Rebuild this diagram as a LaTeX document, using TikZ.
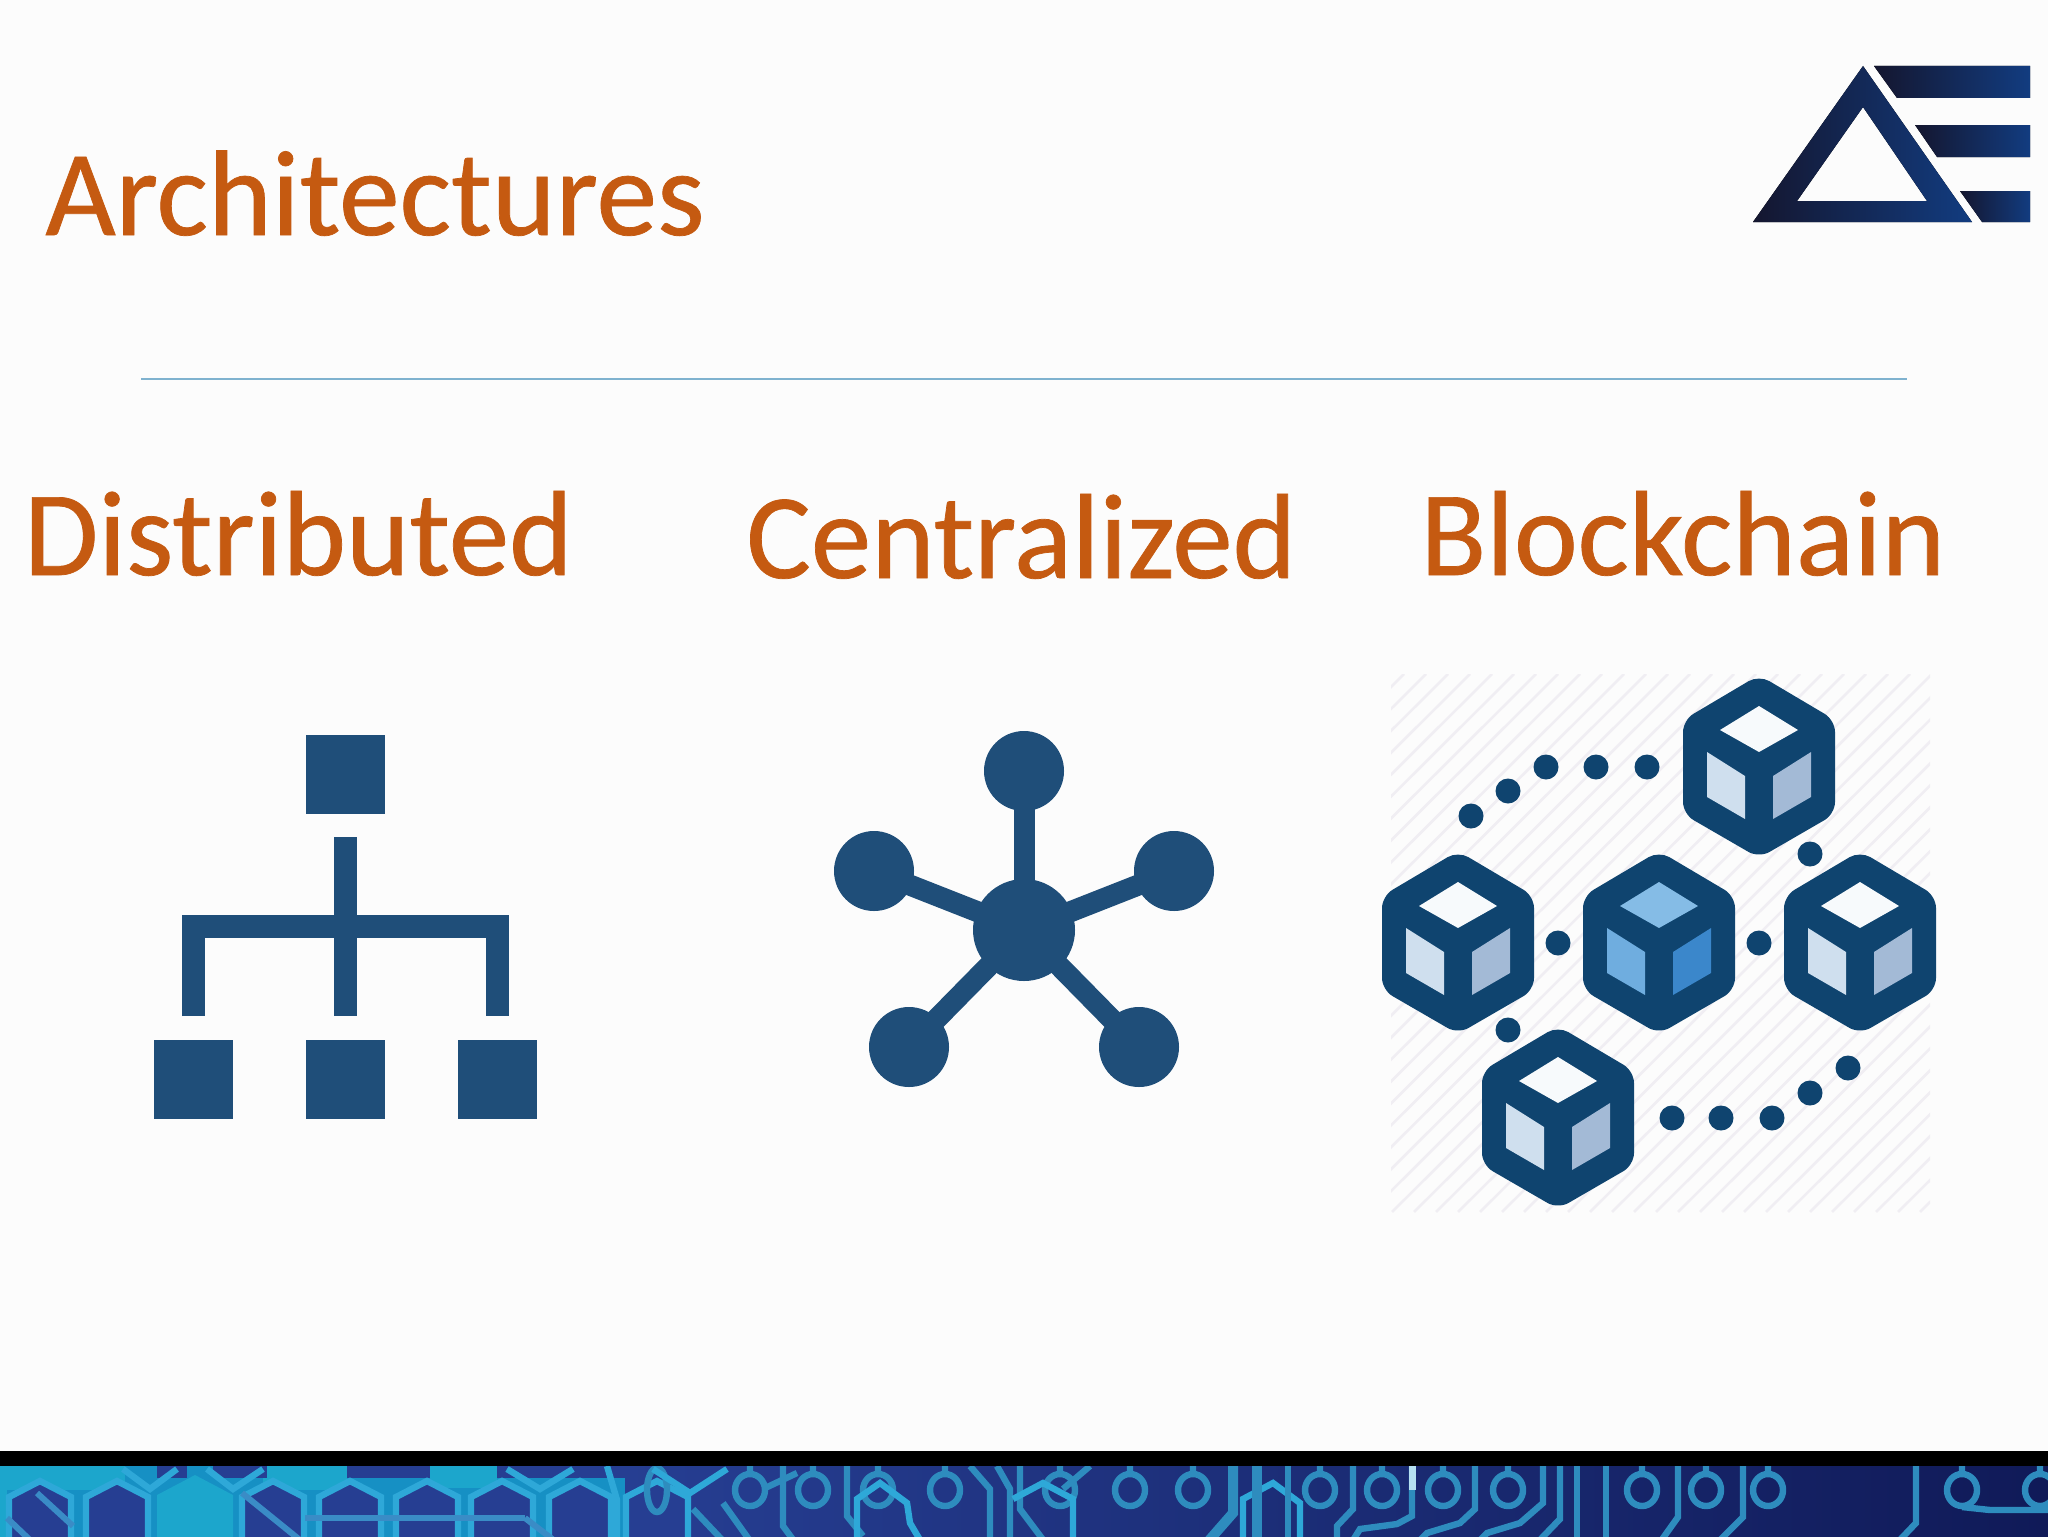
\documentclass[tikz,border=0pt]{standalone}
\usepackage{fontspec}
\setmainfont{Carlito}
\newfontfamily\headfont{Carlito}[FakeBold=0.6]
\usepackage{xcolor}
\definecolor{archorange}{HTML}{C55A11}
\definecolor{archblue}{HTML}{1F4E79}
\definecolor{archrule}{HTML}{7FB2CF}
\definecolor{cubedark}{HTML}{0F446F}
\definecolor{cubetop}{HTML}{F7FAFC}
\definecolor{cubeleft}{HTML}{CFDFEE}
\definecolor{cuberight}{HTML}{A3BAD6}
\definecolor{midtop}{HTML}{85BCE6}
\definecolor{midleft}{HTML}{6FADDF}
\definecolor{midright}{HTML}{3B87CB}
\definecolor{hatchgray}{HTML}{F0EEF3}
\definecolor{logodark}{HTML}{14162F}
\definecolor{logoblue}{HTML}{123C80}
\definecolor{footcyan}{HTML}{1CA6CC}
\definecolor{footteal}{HTML}{1690C4}
\definecolor{footnavy}{HTML}{263E92}
\definecolor{footdeep}{HTML}{101A58}
\definecolor{foottrace}{HTML}{2EA8D8}
\definecolor{footpale}{HTML}{3A8CC6}
\definecolor{footring}{HTML}{2E8CBE}
\newcommand{\blockcube}[5]{%
  \begin{scope}[shift={(#1,#2)}]
    \fill[cubedark, rounded corners=6pt] (0,-92) -- (76,-47) -- (76,47) -- (0,91) -- (-76,47) -- (-76,-47) -- cycle;
    \fill[#3] (0,-61) -- (39,-37) -- (0,-15) -- (-39,-37) -- cycle;
    \fill[#4] (-52,-15) -- (-14,9) -- (-14,52) -- (-52,30) -- cycle;
    \fill[#5] (52,-15) -- (14,9) -- (14,52) -- (52,30) -- cycle;
  \end{scope}}

\begin{document}
\begin{tikzpicture}[x=.5pt, y=-.5pt,
  heading/.style={font=\headfont\fontsize{60.5pt}{62pt}\selectfont, text=archorange, anchor=base west, inner sep=0pt},
  distbox/.style={fill=archblue, minimum size=39.5pt, inner sep=0pt},
  distlink/.style={draw=archblue, line width=11.5pt, shorten <=11.5pt, shorten >=11.5pt},
  hubnode/.style={circle, fill=archblue, minimum size=40pt, inner sep=0pt},
  hublink/.style={draw=archblue, line width=10.5pt, shorten <=-4pt, shorten >=-4pt},
  chaindot/.style={circle, fill=cubedark, minimum size=12.5pt, inner sep=0pt},
  housetrace/.style={draw=foottrace, fill=footnavy, line width=3.2pt},
  bluetrace/.style={draw=foottrace, line width=3.2pt},
  paletrace/.style={draw=footpale, line width=3pt},
  ringtrace/.style={draw=footring, line width=3.2pt}
]
  \useasboundingbox (0,0) rectangle (2048,1536);
  \fill[white!99!black] (0,0) rectangle (2048,1536);

  % Title and rule
  \node[heading, font=\headfont\fontsize{60.8pt}{62pt}\selectfont] (title) at (45,235) {Architectures};
  \coordinate (ruleleft) at (141,379);
  \coordinate (ruleright) at (1907,379);
  \draw[archrule, line width=.7pt] (ruleleft) -- (ruleright);

  % Logo
  \fill[even odd rule, left color=logodark, right color=logoblue]
    (1863,66) -- (1972,222) -- (1753,222) -- cycle
    (1863,107) -- (1927,201) -- (1797,201) -- cycle;
  \fill[left color=logodark, right color=logoblue] (1874,66) -- (2030,66) -- (2030,98) -- (1897,98) -- cycle;
  \fill[left color=logodark, right color=logoblue] (1915,125) -- (2030,125) -- (2030,157) -- (1937,157) -- cycle;
  \fill[left color=logodark, right color=logoblue] (1960,191) -- (2030,191) -- (2030,222) -- (1982,222) -- cycle;

  % Column headings
  \node[heading] (disthead) at (23.5,575) {Distributed};
  \node[heading] (centhead) at (746,578) {Centralized};
  \node[heading] (chainhead) at (1420,575) {Blockchain};

  % Distributed
  \node[distbox] (distroot) at (345.5,774.5) {};
  \node[distbox] (distleft) at (193.5,1079) {};
  \node[distbox] (distmid) at (345.5,1079) {};
  \node[distbox] (distright) at (497.5,1079) {};
  \coordinate (disthub) at (345.5,926);
  \draw[distlink] (distroot.south) -- (distmid.north);
  \draw[distlink] (distleft.north) |- (disthub) -| (distright.north);

  % Centralized
  \node[hubnode, minimum size=51pt] (hubcentre) at (1024,930) {};
  \node[hubnode] (hubtop) at (1024,771) {};
  \node[hubnode] (hubleft) at (874,871) {};
  \node[hubnode] (hubright) at (1174,871) {};
  \node[hubnode] (hublowleft) at (909,1047) {};
  \node[hubnode] (hublowright) at (1139,1047) {};
  \foreach \spoke in {hubtop,hubleft,hubright,hublowleft,hublowright}
    \draw[hublink] (hubcentre) -- (\spoke);

  % Blockchain
  \begin{scope}
    \clip (1391,674) rectangle (1930,1212);
    \foreach \hx in {820,842,...,2400}
      \draw[hatchgray, line width=1.3pt] (\hx,1212) -- ({\hx+540},674);
  \end{scope}
  \blockcube{1759}{767}{cubetop}{cubeleft}{cuberight}
  \blockcube{1458}{943}{cubetop}{cubeleft}{cuberight}
  \blockcube{1860}{943}{cubetop}{cubeleft}{cuberight}
  \blockcube{1558}{1118}{cubetop}{cubeleft}{cuberight}
  \blockcube{1659}{943}{midtop}{midleft}{midright}
  \foreach \dx/\dy in {1647/767,1596/767,1546/767,1508/791,1471/816,1810/854,1558/943,1759/943,1508/1030,1672/1118,1721/1118,1772/1118,1810/1093,1848/1068}
    \node[chaindot] at (\dx,\dy) {};

  % Footer band
  \fill[black] (0,1451) rectangle (2048,1466);
  \begin{scope}
    \clip (0,1466) rectangle (2048,1545);
    \fill[footteal] (0,1466) rectangle (625,1545);
    \fill[left color=footnavy, right color=footdeep] (625,1466) rectangle (2048,1545);
    % left: hexagon cells
    \fill[footcyan] (0,1466) rectangle (125,1490);
    \fill[footcyan] (263,1466) rectangle (347,1490);
    \fill[footcyan] (430,1466) rectangle (497,1488);
    \fill[footnavy] (157,1466) rectangle (187,1478);
    \fill[footnavy] (213,1466) rectangle (267,1478);
    \fill[footnavy] (347,1466) rectangle (430,1478);
    \fill[footnavy] (497,1466) rectangle (625,1478);
    \fill[footcyan] (0,1490) rectangle (7,1545);
    \foreach \hx in {40,117,273,350,427,502,580,657}
      \draw[housetrace] ({\hx-31},1545) -- ({\hx-31},1497) -- (\hx,1481) -- ({\hx+31},1497) -- ({\hx+31},1545) -- cycle;
    \fill[footcyan] (157,1545) -- (157,1495) -- (195,1475) -- (233,1495) -- (233,1545) -- cycle;
    \draw[paletrace] (37,1493) -- (73,1526);
    \draw[paletrace] (7,1518) -- (30,1540);
    \draw[paletrace] (242,1493) -- (300,1540);
    \draw[paletrace] (305,1518) -- (525,1518);
    \draw[bluetrace] (123,1469) -- (150,1489) -- (177,1469);
    \draw[bluetrace] (207,1469) -- (233,1489) -- (263,1469);
    \draw[bluetrace] (507,1469) -- (540,1489) -- (573,1469);
    \draw[bluetrace] (607,1466) -- (617,1500) -- (617,1545);
    \draw[paletrace] (525,1518) -- (560,1545);
    % middle: rings and traces
    \foreach \rx in {750,813,878,945,1060,1130,1193,1320,1382,1443,1508,1642,1706,1768,1962,2040}
      \draw[ringtrace] (\rx,1466) -- (\rx,1473) (\rx,1490) ellipse [x radius=15, y radius=16];
    \draw[ringtrace] (657,1490) ellipse [x radius=10, y radius=22];
    \draw[bluetrace] (653,1469) -- (690,1493) -- (727,1469);
    \draw[ringtrace] (693,1509) -- (727,1545);
    \draw[ringtrace] (723,1503) -- (753,1545);
    \draw[ringtrace] (783,1466) -- (783,1526) -- (797,1545);
    \draw[ringtrace] (763,1489) -- (797,1473);
    \draw[ringtrace] (847,1466) -- (847,1516) -- (863,1536);
    \draw[bluetrace] (857,1545) -- (857,1499) -- (880,1483) -- (907,1503) -- (910,1523) -- (923,1545);
    \draw[ringtrace] (970,1466) -- (990,1489) -- (990,1545);
    \draw[ringtrace] (997,1466) -- (1010,1489) -- (1010,1545);
    \draw[ringtrace] (1020,1466) -- (1020,1509) -- (1047,1545);
    \draw[bluetrace] (1013,1499) -- (1043,1483) -- (1073,1499) -- (1073,1545);
    \draw[ringtrace] (1090,1466) -- (1063,1489);
    \draw[ringtrace, line width=5pt] (1233,1466) -- (1233,1513) -- (1205,1545);
    \draw[bluetrace] (1243,1545) -- (1243,1499) -- (1273,1483) -- (1300,1503) -- (1300,1545);
    \draw[ringtrace, line width=5pt] (1257,1466) -- (1257,1545);
    \draw[ringtrace] (1288,1466) -- (1288,1545);
    \draw[ringtrace] (1353,1466) -- (1353,1509) -- (1337,1526) -- (1337,1545);
    \draw[ringtrace] (1412,1466) -- (1412,1516) -- (1397,1524) -- (1360,1529) -- (1350,1545);
    \draw[white!65!foottrace, line width=3.5pt] (1412,1466) -- (1412,1490);
    \draw[ringtrace] (1475,1466) -- (1475,1509) -- (1460,1523) -- (1427,1533) -- (1415,1545);
    \draw[ringtrace] (1543,1466) -- (1543,1503) -- (1520,1523) -- (1487,1533) -- (1475,1545);
    \draw[ringtrace] (1560,1466) -- (1560,1519) -- (1535,1545);
    \draw[ringtrace] (1577,1466) -- (1577,1545);
    \draw[ringtrace] (1606,1466) -- (1606,1545);
    \draw[ringtrace] (1678,1466) -- (1678,1517) -- (1658,1545);
    \draw[ringtrace] (1743,1466) -- (1743,1517) -- (1715,1545);
    \draw[ringtrace] (1916,1466) -- (1916,1523) -- (1895,1545);
    \draw[ringtrace] (1962,1507) -- (1990,1510) -- (2048,1510);
  \end{scope}
\end{tikzpicture}
\end{document}
